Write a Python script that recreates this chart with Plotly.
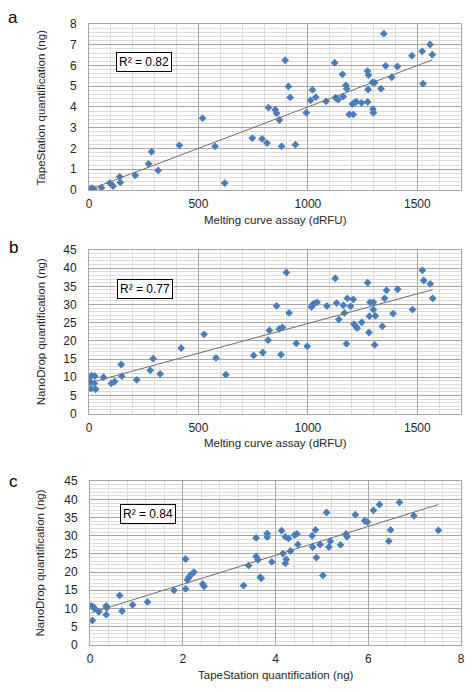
import plotly.graph_objects as go

# ---------------- data ----------------
# Panel a: melting curve assay (dRFU) vs TapeStation (ng)
a_x = [4, 12, 22, 57, 95, 110, 140, 143, 211, 272, 286, 316, 413, 519, 576, 620,
       746, 791, 813, 820, 851, 857, 870, 880, 896, 911, 919, 943, 993, 1012, 1021,
       1036, 1083, 1122, 1126, 1138, 1158, 1161, 1173, 1177, 1189, 1203, 1207, 1212,
       1221, 1245, 1272, 1277, 1275, 1273, 1295, 1305, 1297, 1299, 1334, 1347, 1355,
       1383, 1409, 1475, 1522, 1526, 1558, 1568]
a_y = [0.03, 0.08, 0.05, 0.10, 0.33, 0.19, 0.63, 0.36, 0.70, 1.26, 1.84, 0.94, 2.15,
       3.46, 2.10, 0.33, 2.50, 2.46, 2.26, 3.97, 3.87, 3.69, 3.37, 2.10, 6.25, 4.99,
       4.46, 2.18, 3.72, 4.32, 4.82, 4.47, 4.27, 6.13, 4.44, 4.35, 5.57, 4.50, 5.04,
       4.88, 3.64, 4.14, 3.64, 4.20, 4.25, 4.20, 5.73, 5.54, 4.84, 4.24, 5.18, 5.17,
       3.89, 3.72, 4.88, 7.53, 5.98, 5.43, 5.95, 6.47, 6.68, 5.12, 7.01, 6.52]

# Panel b: melting curve assay (dRFU) vs NanoDrop (ng)
b_x = [0, 4, 12, 27, 24, 9, 30, 66, 102, 117, 147, 150, 218, 280, 293, 325, 421, 526,
       580, 625, 752, 794, 818, 824, 857, 869, 884, 877, 902, 914, 947, 997, 1016,
       1022, 1030, 1042, 1087, 1125, 1131, 1141, 1162, 1167, 1176, 1180, 1195, 1207,
       1210, 1219, 1225, 1246, 1273, 1279, 1281, 1284, 1299, 1299, 1305, 1308, 1340,
       1350, 1359, 1389, 1410, 1478, 1523, 1529, 1559, 1570]
b_y = [9.1, 8.65, 10.45, 10.3, 8.3, 6.85, 6.7, 10.0, 8.3, 8.8, 13.5, 10.3, 9.3, 11.9,
       15.1, 10.9, 18.0, 21.8, 15.3, 10.7, 16.0, 16.8, 20.2, 22.9, 29.6, 23.3, 23.7,
       16.2, 38.8, 27.7, 19.3, 18.5, 29.3, 30.0, 30.3, 30.6, 29.6, 37.2, 30.4, 25.9,
       29.8, 27.7, 19.2, 31.7, 29.5, 31.4, 24.6, 24.0, 23.5, 25.1, 36.0, 22.3, 26.8,
       30.6, 30.6, 28.6, 18.9, 26.9, 24.0, 31.7, 33.9, 27.5, 34.2, 28.6, 39.4, 36.6,
       35.7, 31.7]

# Panel c: TapeStation (ng) vs NanoDrop (ng)
c_x = [0.03, 0.07, 0.10, 0.05, 0.19, 0.35, 0.36, 0.35, 0.64, 0.69, 0.92, 1.24, 1.81,
       2.06, 2.06, 2.10, 2.13, 2.17, 2.24, 2.43, 2.46, 3.31, 3.42, 3.58, 3.58, 3.62,
       3.67, 3.69, 3.82, 3.82, 3.92, 4.13, 4.16, 4.21, 4.23, 4.21, 4.28, 4.32, 4.41,
       4.46, 4.48, 4.79, 4.80, 4.86, 4.88, 4.96, 5.02, 5.10, 5.15, 5.18, 5.40, 5.52,
       5.54, 5.72, 5.92, 5.98, 6.11, 6.24, 6.44, 6.48, 6.67, 6.98, 7.51]
c_y = [10.7, 10.4, 10.0, 6.7, 9.1, 10.7, 10.2, 8.3, 13.6, 9.3, 11.0, 11.8, 15.0, 15.4,
       23.6, 17.9, 18.6, 19.2, 20.0, 16.7, 16.1, 16.3, 21.8, 29.4, 24.3, 23.4, 18.6,
       18.3, 30.6, 29.6, 22.8, 31.4, 25.1, 29.7, 23.5, 22.4, 29.3, 25.8, 30.2, 30.5,
       27.6, 30.0, 26.9, 31.6, 24.0, 27.6, 19.1, 36.4, 26.9, 28.5, 27.5, 30.5, 29.7,
       35.8, 34.1, 33.8, 37.0, 38.6, 28.5, 31.6, 39.2, 35.5, 31.5]

# Linear trendline parameters (slope, intercept) and R² labels
a_fit = (0.00399, 0.01)
b_fit = (0.01633, 8.45)
c_fit = (3.98, 8.7)
r2_labels = ["R² = 0.82", "R² = 0.77", "R² = 0.84"]
panel_letters = ["a", "b", "c"]

x_titles = ["Melting curve assay (dRFU)", "Melting curve assay (dRFU)",
            "TapeStation quantification (ng)"]
y_titles = ["TapeStation quantification (ng)", "NanoDrop quantification (ng)",
            "NanoDrop quantification (ng)"]

# ---------------- figure ----------------
W, H = 474, 692
FONT = "Liberation Sans, Arial, sans-serif"
MARK = "#4A7EBB"
MAJOR = "#A6A6A6"
MINOR = "#DCDCDC"
TXT = "#262626"

def py(px):
    return 1 - px / H

def pxx(px):
    return px / W

# pixel boxes of the plot areas: (left, right, top, bottom)
boxes = [(87.3, 465, 17.3, 186.7), (87.3, 465, 248, 415), (88.3, 465, 484, 651)]
xranges = [(0, 1700, 500, 100), (0, 1700, 500, 100), (0, 8, 2, 0.4)]
yranges = [(0, 8, 1, 0.2), (0, 45, 5, 1), (0, 45, 5, 1)]
datasets = [(a_x, a_y, a_fit), (b_x, b_y, b_fit), (c_x, c_y, c_fit)]
r2_pos = [(0.149, 0.769), (0.151, 0.763), (0.155, 0.80)]
letter_pos = [(10, 11), (11, 245), (11, 484)]
xtitle_y = [217, 444.5, 682]
ytitle_x = 38

fig = go.Figure()
layout = dict(width=W, height=H, margin=dict(l=0, r=0, t=0, b=0),
              paper_bgcolor="white", plot_bgcolor="white", showlegend=False,
              font=dict(family=FONT, color=TXT, size=12))
annotations = []

for i in range(3):
    xs, ys, (m, b) = datasets[i]
    suffix = "" if i == 0 else str(i + 1)
    xa, ya = "x" + suffix, "y" + suffix
    fig.add_trace(go.Scatter(x=xs, y=ys, mode="markers", xaxis=xa, yaxis=ya,
                             marker=dict(symbol="diamond", size=6, color=MARK,
                                         line=dict(width=0))))
    x0, x1 = min(xs), max(xs)
    fig.add_trace(go.Scatter(x=[x0, x1], y=[m * x0 + b, m * x1 + b], mode="lines",
                             xaxis=xa, yaxis=ya,
                             line=dict(color="#6E6E6E", width=1)))
    l, r, t, btm = boxes[i]
    xr, yr = xranges[i], yranges[i]
    layout["xaxis" + suffix] = dict(
        domain=[pxx(l), pxx(r)], anchor=ya, range=[xr[0], xr[1]], dtick=xr[2],
        tick0=0, showgrid=True, gridcolor=MAJOR, gridwidth=1, zeroline=False,
        showline=True, linecolor=MAJOR, mirror=True, ticks="",
        ticklabelstandoff=3, tickfont=dict(size=12, color=TXT),
        minor=dict(dtick=xr[3], tick0=0, showgrid=True, gridcolor=MINOR,
                   gridwidth=1, ticks=""))
    layout["yaxis" + suffix] = dict(
        domain=[py(btm), py(t)], anchor=xa, range=[yr[0], yr[1]], dtick=yr[2],
        tick0=0, showgrid=True, gridcolor=MAJOR, gridwidth=1, zeroline=False,
        showline=True, linecolor=MAJOR, mirror=True, ticks="",
        ticklabelstandoff=9, tickfont=dict(size=12, color=TXT),
        minor=dict(dtick=yr[3], tick0=0, showgrid=True, gridcolor=MINOR,
                   gridwidth=1, ticks=""))
    # R² box
    annotations.append(dict(text=r2_labels[i], xref=xa + " domain",
                            yref=ya + " domain", x=r2_pos[i][0], y=r2_pos[i][1],
                            xanchor="center", yanchor="middle",
                            showarrow=False, bgcolor="white", bordercolor="#000000",
                            borderwidth=1, borderpad=2,
                            font=dict(size=12, color="#000000")))
    # panel letter
    annotations.append(dict(text=panel_letters[i], xref="paper", yref="paper",
                            x=pxx(letter_pos[i][0]), y=py(letter_pos[i][1]),
                            xanchor="center", yanchor="middle",
                            showarrow=False, font=dict(size=17, color="#000000")))
    # axis titles
    annotations.append(dict(text=x_titles[i], xref="paper", yref="paper",
                            x=pxx((l + r) / 2), y=py(xtitle_y[i]), showarrow=False,
                            xanchor="center", yanchor="middle",
                            font=dict(size=11.5, color=TXT)))
    annotations.append(dict(text=y_titles[i], xref="paper", yref="paper",
                            x=pxx(ytitle_x), y=py((t + btm) / 2), showarrow=False,
                            xanchor="center", yanchor="middle",
                            textangle=-90, font=dict(size=11.5, color=TXT)))

layout["annotations"] = annotations
fig.update_layout(**layout)
fig.write_html("out.html")
